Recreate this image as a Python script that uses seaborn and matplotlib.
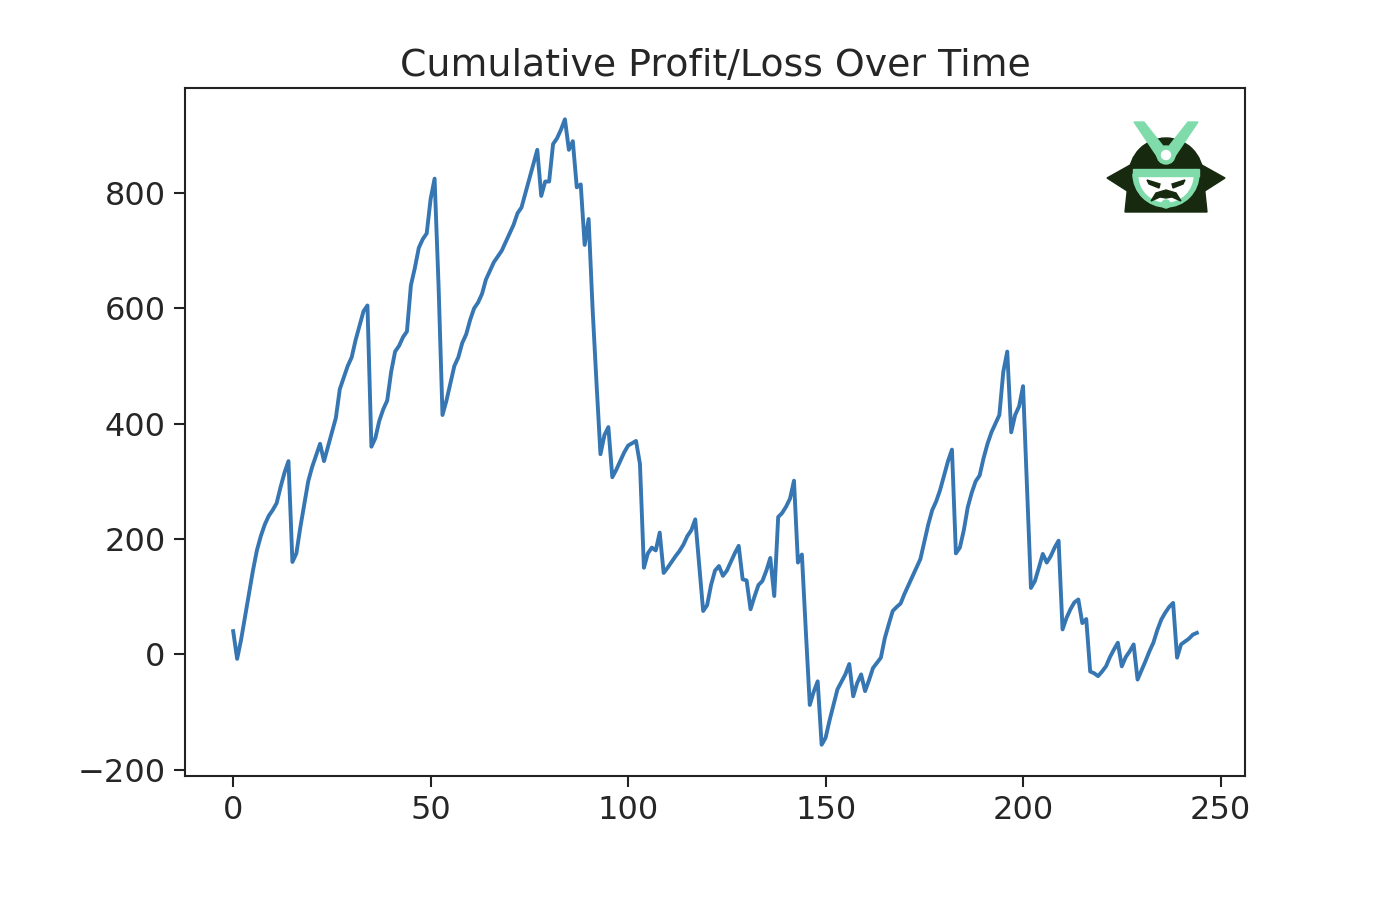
import numpy as np
import pandas as pd
import matplotlib
matplotlib.use("Agg")
import matplotlib.pyplot as plt
from matplotlib.patches import Polygon, Wedge, Circle, Rectangle
import seaborn as sns

# ---- data (cumulative P/L per trade index) ----
cum_pnl = [
    40, -8, 25, 65, 105, 145, 180, 205, 225, 240,
    250, 262, 290, 315, 335, 160, 175, 220, 260, 300,
    325, 345, 365, 335, 360, 385, 410, 460, 480, 500,
    515, 545, 570, 595, 605, 360, 375, 405, 425, 440,
    490, 525, 535, 550, 560, 640, 670, 705, 720, 730,
    790, 825, 640, 415, 440, 470, 500, 515, 540, 555,
    580, 600, 610, 625, 650, 665, 680, 690, 700, 715,
    730, 745, 765, 775, 800, 825, 850, 875, 795, 820,
    820, 885, 895, 910, 928, 875, 890, 810, 815, 710,
    755, 600, 470, 347, 380, 394, 307, 320, 335, 350,
    362, 366, 370, 330, 150, 175, 185, 180, 211, 141,
    150, 160, 170, 179, 190, 205, 215, 234, 155, 75,
    85, 120, 145, 153, 136, 145, 160, 175, 188, 130,
    128, 78, 100, 120, 127, 145, 167, 101, 238, 245,
    256, 270, 301, 159, 173, 40, -88, -65, -47, -157,
    -145, -115, -88, -61, -48, -35, -17, -73, -50, -35,
    -64, -45, -24, -15, -6, 28, 52, 75, 82, 88,
    105, 120, 135, 150, 165, 195, 225, 250, 265, 285,
    310, 335, 355, 175, 185, 215, 255, 280, 300, 310,
    340, 365, 385, 400, 415, 490, 525, 385, 415, 430,
    465, 290, 115, 127, 150, 174, 159, 170, 185, 197,
    43, 63, 78, 90, 95, 54, 61, -30, -33, -38,
    -30, -21, -5, 8, 20, -21, -5, 5, 17, -44,
    -28, -12, 5, 20, 42, 60, 72, 82, 89, -6,
    17, 22, 27, 34, 37,
]
trade_index = list(range(len(cum_pnl)))
title_text = "Cumulative Profit/Loss Over Time"

df = pd.DataFrame({"trade": trade_index, "pnl": cum_pnl})

W, H = 1394, 918
fig = plt.figure(figsize=(W / 100, H / 100), dpi=100)
ax = fig.add_axes([185 / W, 1 - 776 / H, 1060 / W, 688 / H])

sns.lineplot(data=df, x="trade", y="pnl", ax=ax, color="#3676b2", linewidth=2.8)

ax.set_xlabel("")
ax.set_ylabel("")
ax.set_xticks([0, 50, 100, 150, 200, 250])
ax.set_yticks([-200, 0, 200, 400, 600, 800])
ax.tick_params(axis="both", labelsize=23, length=8, width=1.5, colors="#222222",
               labelcolor="#262626", pad=6)
for s in ax.spines.values():
    s.set_linewidth(1.5)
    s.set_color("#222222")
ax.set_title(title_text, fontsize=27.3, pad=9, color="#262626")

# ---- logo (decorative) ----
lx = fig.add_axes([1105 / W, 1 - 218 / H, 125 / W, 100 / H])
lx.set_xlim(0, 125)
lx.set_ylim(100, 0)
lx.axis("off")
dark = "#172a10"
mint = "#7fdcaa"
# side flaps and body
lx.add_patch(Polygon([(2, 60), (27, 46), (27, 76)], closed=True, color=dark))
lx.add_patch(Polygon([(120, 60), (95, 46), (95, 76)], closed=True, color=dark))
lx.add_patch(Polygon([(20, 94), (102, 94), (98, 56), (24, 56)], closed=True, color=dark))
# dome
lx.add_patch(Wedge((61, 57), 37, 180, 360, color=dark))
# face
lx.add_patch(Wedge((61, 56), 33, 0, 180, color=mint))
lx.add_patch(Wedge((61, 57), 27, 0, 180, color="white"))
lx.add_patch(Rectangle((28, 51), 66, 7, color=mint))
# horns
lx.add_patch(Polygon([(29, 4), (39, 4), (61, 32), (83, 4), (93, 4), (66, 44), (56, 44)],
                     closed=True, color=mint))
# crest ring
lx.add_patch(Circle((61, 37), 9, color=mint))
lx.add_patch(Circle((61, 37), 4.5, color="white"))
# eyebrows
lx.add_patch(Polygon([(42, 62), (55, 66), (54, 70), (44, 66)], closed=True, color=dark))
lx.add_patch(Polygon([(80, 62), (67, 66), (68, 70), (78, 66)], closed=True, color=dark))
# mustache
lx.add_patch(Polygon([(46, 83), (51, 75), (61, 72), (71, 75), (76, 83), (67, 79), (61, 80), (55, 79)],
                     closed=True, color=dark))
lx.add_patch(Circle((61, 86), 4, color=mint))

fig.savefig("out.png", dpi=100)
